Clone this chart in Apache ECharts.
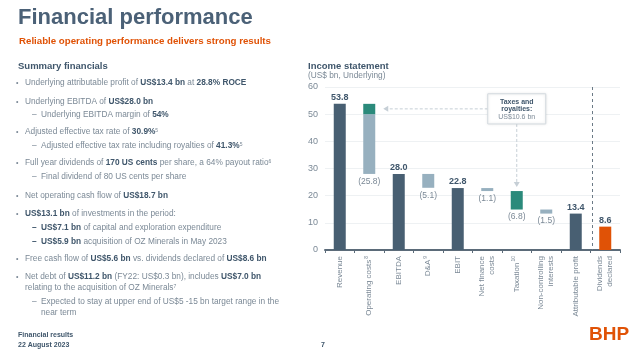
<!DOCTYPE html>
<html><head><meta charset="utf-8">
<script src="https://cdn.jsdelivr.net/npm/echarts@6/dist/echarts.min.js"></script>
<style>html,body{margin:0;padding:0;background:#fff}#c{width:640px;height:358px}</style>
</head><body><div id="c"></div>
<script>
// ---- data ----
var categories = ['Revenue','Operating costs','EBITDA','D&A','EBIT','Net finance\ncosts','Taxation','Non-controlling\ninterests','Attributable profit','Dividends\ndeclared'];
var footnotes  = ['', '8', '', '9', '', '', '10', '', '', ''];
var totals     = [53.8, null, 28.0, null, 22.8, null, null, null, 13.4, null];
var deductions = [null, 25.8, null, 5.1, null, 1.1, 6.8, 1.5, null, null];
var taxRoyaltyPart = [null, 3.8, null, null, null, null, 6.8, null, null, null];
var dividends  = [null, null, null, null, null, null, null, null, null, 8.6];
var yTicks = [0, 10, 20, 30, 40, 50, 60];
var taxesTotal = 10.6;

// derived waterfall pieces
var base = [], light = [], teal = [], level = 0;
for (var i = 0; i < categories.length; i++) {
  if (totals[i] != null) level = totals[i];
  if (deductions[i] != null) {
    var bottom = +(level - deductions[i]).toFixed(2);
    base.push(bottom);
    var t = taxRoyaltyPart[i] || 0;
    light.push(+(deductions[i] - t).toFixed(2) || null);
    teal.push(t || null);
    level = bottom;
  } else { base.push(null); light.push(null); teal.push(null); }
}

var FONT = '"Liberation Sans", Arial, sans-serif';
var DARK = '#3f566b', GREY = '#7b8996', ORANGE = '#e05206';
var C_DARK = '#485f72', C_LIGHT = '#97b0bf', C_TEAL = '#2b8a7b';

var chart = echarts.init(document.getElementById('c'));

function txt(x, y, text, size, color, weight) {
  return {type: 'text', x: x, y: y, z: 10, style: {
    text: text, fontSize: size, fill: color, fontWeight: weight || 'normal', fontFamily: FONT,
    verticalAlign: 'middle', align: 'left',
    rich: {b: {fontWeight: 'bold', fill: DARK, fontSize: size, fontFamily: FONT},
           s: {fontSize: 5, fill: color, verticalAlign: 'top', fontFamily: FONT}}}};
}

var BS = 8.3;
var graphics = [
  txt(18, 18, 'Financial performance', 22, '#4b6177', 'bold'),
  txt(19, 41, 'Reliable operating performance delivers strong results', 9.7, ORANGE, 'bold'),
  txt(18, 66, 'Summary financials', 9.5, DARK, 'bold'),
  txt(308, 66, 'Income statement', 9.5, DARK, 'bold'),
  txt(308, 76, '(US$ bn, Underlying)', 8.3, GREY),
  txt(18, 335, 'Financial results', 7, DARK, 'bold'),
  txt(18, 345, '22 August 2023', 7, DARK, 'bold'),
  txt(321, 345, '7', 7, DARK, 'bold'),
  txt(589, 335, 'BHP', 19, ORANGE, 'bold')
];
var bullets = [
  [83, 0, 'Underlying attributable profit of {b|US$13.4 bn} at {b|28.8% ROCE}'],
  [102, 0, 'Underlying EBITDA of {b|US$28.0 bn}'],
  [115, 1, 'Underlying EBITDA margin of {b|54%}'],
  [132, 0, 'Adjusted effective tax rate of {b|30.9%}{s|5}'],
  [146, 1, 'Adjusted effective tax rate including royalties of {b|41.3%}{s|5}'],
  [163, 0, 'Full year dividends of {b|170 US cents} per share, a 64% payout ratio{s|6}'],
  [177, 1, 'Final dividend of 80 US cents per share'],
  [196, 0, 'Net operating cash flow of {b|US$18.7 bn}'],
  [214, 0, '{b|US$13.1 bn} of investments in the period:'],
  [228, 2, '{b|US$7.1 bn} of capital and exploration expenditure'],
  [242, 2, '{b|US$5.9 bn} acquisition of OZ Minerals in May 2023'],
  [259, 0, 'Free cash flow of {b|US$5.6 bn} vs. dividends declared of {b|US$8.6 bn}'],
  [277, 0, 'Net debt of {b|US$11.2 bn} (FY22: US$0.3 bn), includes {b|US$7.0 bn}'],
  [288, 3, 'relating to the acquisition of OZ Minerals{s|7}'],
  [302, 1, 'Expected to stay at upper end of US$5 -15 bn target range in the'],
  [313, 4, 'near term']
];
bullets.forEach(function (b) {
  var y = b[0], kind = b[1];
  if (kind === 0) { graphics.push(txt(16, y, '•', 7, GREY)); graphics.push(txt(25, y, b[2], BS, GREY)); }
  else if (kind === 1 || kind === 2) {
    graphics.push(txt(32, y, '–', BS, kind === 2 ? DARK : GREY, kind === 2 ? 'bold' : 'normal'));
    graphics.push(txt(41, y, b[2], BS, GREY));
  }
  else if (kind === 3) graphics.push(txt(25, y, b[2], BS, GREY));
  else graphics.push(txt(41, y, b[2], BS, GREY));
});

function stackSeries(name, data, color, label) {
  return {name: name, type: 'bar', stack: 'w', data: data, barWidth: 12,
          itemStyle: {color: color}, label: label || {show: false}, silent: true, animation: false};
}

var option = {
  animation: false,
  grid: {left: 325, right: 20, top: 87, bottom: 108},
  xAxis: {
    type: 'category', data: categories,
    axisLine: {lineStyle: {color: '#5b6b79', width: 2}},
    axisTick: {show: true, length: 3, lineStyle: {color: '#5b6b79'}},
    axisLabel: {
      rotate: 90, fontSize: 8, color: GREY, fontFamily: FONT, margin: 6, interval: 0,
      formatter: function (v, i) {
        var lines = v.split('\n');
        var out = lines.map(function (l) { return '{n|' + l + '}'; }).join('\n');
        if (footnotes[i]) out += '{s|' + footnotes[i] + '}';
        return out;
      },
      rich: {n: {fontSize: 8, color: GREY, fontFamily: FONT, lineHeight: 10},
             s: {fontSize: 5, color: GREY, fontFamily: FONT, verticalAlign: 'top', padding: [0, 0, 6, 1]}}
    }
  },
  yAxis: {
    type: 'value', min: yTicks[0], max: yTicks[yTicks.length - 1], interval: 10,
    axisLabel: {fontSize: 9, color: GREY, fontFamily: FONT, margin: 7},
    axisLine: {show: false}, axisTick: {show: false},
    splitLine: {lineStyle: {color: '#eef1f3'}}
  },
  series: [
    stackSeries('base', base, 'rgba(0,0,0,0)', {
      show: true, position: 'insideTop', distance: 3, fontSize: 8.5, color: GREY, fontFamily: FONT,
      formatter: function (p) { var d = deductions[p.dataIndex]; return d == null ? '' : '(' + d.toFixed(1) + ')'; }
    }),
    stackSeries('costs', light, C_LIGHT),
    stackSeries('taxes', teal, C_TEAL),
    stackSeries('totals', totals, C_DARK, {
      show: true, position: 'top', distance: 2, fontSize: 9, fontWeight: 'bold', color: DARK, fontFamily: FONT,
      formatter: function (p) { return p.value == null ? '' : p.value.toFixed(1); }
    }),
    stackSeries('dividends', dividends, ORANGE, {
      show: true, position: 'top', distance: 2, fontSize: 9, fontWeight: 'bold', color: DARK, fontFamily: FONT,
      formatter: function (p) { return p.value == null ? '' : p.value.toFixed(1); }
    })
  ]
};
chart.setOption(option);

// annotations placed through the chart's own scales
function px(ci, v) { return chart.convertToPixel({gridIndex: 0}, [ci, v]); }
var sepX = (px(8, 0)[0] + px(9, 0)[0]) / 2 + 2;
var plotTopY = px(0, 60)[1], zeroY = px(0, 0)[1];
var boxC = px(6, 57.5); var boxB = px(6, 46.4);
var bx0 = boxC[0] - 29, bx1 = boxC[0] + 29;
var midY = (boxC[1] + boxB[1]) / 2;
var arrowLeftX = px(1, 0)[0] + 14;
var taxTop = px(6, base[6] + deductions[6] + 1.5)[1];
var DASH = '#c6cfd6';
graphics.push(
  {type: 'line', z: 5, shape: {x1: sepX, y1: plotTopY, x2: sepX, y2: zeroY}, style: {stroke: '#6b7a86', lineWidth: 1, lineDash: [3, 3]}},
  {type: 'line', z: 5, shape: {x1: bx0, y1: midY, x2: arrowLeftX + 2, y2: midY}, style: {stroke: DASH, lineWidth: 1, lineDash: [3, 2]}},
  {type: 'polygon', z: 5, shape: {points: [[arrowLeftX, midY], [arrowLeftX + 5, midY - 3], [arrowLeftX + 5, midY + 3]]}, style: {fill: DASH}},
  {type: 'line', z: 5, shape: {x1: boxC[0], y1: boxB[1], x2: boxC[0], y2: taxTop - 2}, style: {stroke: DASH, lineWidth: 1, lineDash: [3, 2]}},
  {type: 'polygon', z: 5, shape: {points: [[boxC[0], taxTop], [boxC[0] - 3, taxTop - 5], [boxC[0] + 3, taxTop - 5]]}, style: {fill: DASH}},
  {type: 'rect', z: 6, shape: {x: bx0, y: boxC[1], width: bx1 - bx0, height: boxB[1] - boxC[1]},
   style: {fill: '#fff', stroke: '#d3dadf', lineWidth: 1, shadowBlur: 3, shadowColor: 'rgba(0,0,0,0.12)'}},
  {type: 'text', z: 7, x: boxC[0], y: boxC[1] + 8, style: {text: 'Taxes and', fontSize: 7, fontWeight: 'bold', fill: DARK, fontFamily: FONT, align: 'center', verticalAlign: 'middle'}},
  {type: 'text', z: 7, x: boxC[0], y: boxC[1] + 15, style: {text: 'royalties:', fontSize: 7, fontWeight: 'bold', fill: DARK, fontFamily: FONT, align: 'center', verticalAlign: 'middle'}},
  {type: 'text', z: 7, x: boxC[0], y: boxC[1] + 23, style: {text: 'US$' + taxesTotal.toFixed(1) + ' bn', fontSize: 7, fill: GREY, fontFamily: FONT, align: 'center', verticalAlign: 'middle'}}
);
chart.setOption({graphic: {elements: graphics}});
</script>
</body></html>
